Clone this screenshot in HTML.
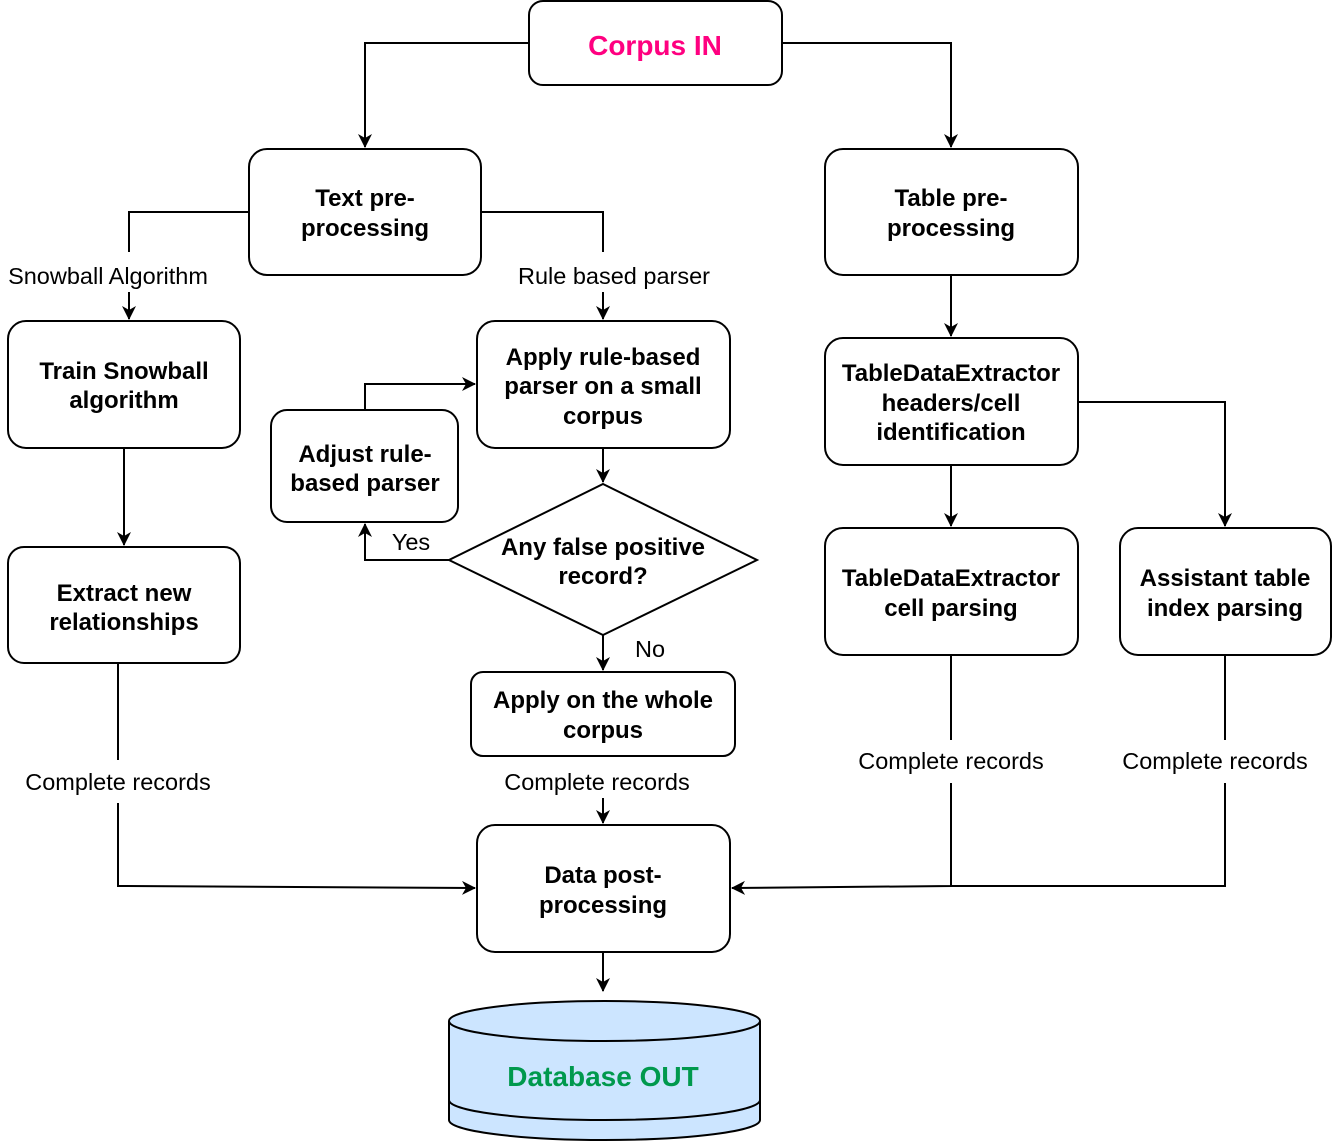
<!DOCTYPE html>
<html><head><meta charset="utf-8"><style>
html,body{margin:0;padding:0;background:#fff;}
svg{display:block;font-family:"Liberation Sans",Arial,sans-serif;}
.b{fill:#fff;stroke:#000;stroke-width:2;}
.t{font-weight:bold;font-size:24px;text-anchor:middle;fill:#000;}
.l{font-size:23.5px;text-anchor:middle;fill:#000;}
.c{fill:none;stroke:#000;stroke-width:2;}
</style></head><body>
<svg width="1332" height="1143" viewBox="0 0 1332 1143" xmlns="http://www.w3.org/2000/svg">
<defs><marker id="a" markerWidth="16" markerHeight="16" refX="13" refY="7" orient="auto" markerUnits="userSpaceOnUse"><path d="M0,0 L14,7 L0,14 L4,7 Z" fill="#000"/></marker></defs>

<path class="c" d="M529,43 H365 V147" marker-end="url(#a)"/>
<path class="c" d="M782,43 H951 V147" marker-end="url(#a)"/>
<path class="c" d="M249,212 H129 V252"/>
<path class="c" d="M129,292 V319" marker-end="url(#a)"/>
<path class="c" d="M481,212 H603 V252"/>
<path class="c" d="M603,292 V319" marker-end="url(#a)"/>
<path class="c" d="M124,448 V545" marker-end="url(#a)"/>
<path class="c" d="M118,663 V760"/>
<path class="c" d="M118,803 V886 L475,888" marker-end="url(#a)"/>
<path class="c" d="M603,448 V482" marker-end="url(#a)"/>
<path class="c" d="M449,560 H365 V524" marker-end="url(#a)"/>
<path class="c" d="M365,410 V384 H475" marker-end="url(#a)"/>
<path class="c" d="M603,635 V670" marker-end="url(#a)"/>
<path class="c" d="M603,798 V823" marker-end="url(#a)"/>
<path class="c" d="M951,275 V336" marker-end="url(#a)"/>
<path class="c" d="M951,465 V526" marker-end="url(#a)"/>
<path class="c" d="M1078,402 H1225 V526" marker-end="url(#a)"/>
<path class="c" d="M951,655 V740"/>
<path class="c" d="M951,783 V886 L732,888" marker-end="url(#a)"/>
<path class="c" d="M1225,655 V740"/>
<path class="c" d="M1225,783 V886 H951"/>
<path class="c" d="M603,952 V991" marker-end="url(#a)"/>

<rect class="b" x="529" y="1" width="253" height="84" rx="14"/>
<text x="655" y="55" font-size="28" font-weight="bold" text-anchor="middle" fill="#ff0080">Corpus IN</text>

<rect class="b" x="249" y="149" width="232" height="126" rx="18"/>
<text class="t" x="365" y="206">Text pre-</text><text class="t" x="365" y="236">processing</text>

<rect class="b" x="825" y="149" width="253" height="126" rx="18"/>
<text class="t" x="951" y="206">Table pre-</text><text class="t" x="951" y="236">processing</text>

<rect class="b" x="8" y="321" width="232" height="127" rx="18"/>
<text class="t" x="124" y="379">Train Snowball</text><text class="t" x="124" y="408">algorithm</text>

<rect class="b" x="477" y="321" width="253" height="127" rx="18"/>
<text class="t" x="603" y="365">Apply rule-based</text><text class="t" x="603" y="394">parser on a small</text><text class="t" x="603" y="424">corpus</text>

<rect class="b" x="271" y="410" width="187" height="112" rx="16"/>
<text class="t" x="365" y="462">Adjust rule-</text><text class="t" x="365" y="491">based parser</text>

<rect class="b" x="825" y="338" width="253" height="127" rx="18"/>
<text class="t" x="951" y="381">TableDataExtractor</text><text class="t" x="951" y="411">headers/cell</text><text class="t" x="951" y="440">identification</text>

<rect class="b" x="8" y="547" width="232" height="116" rx="16"/>
<text class="t" x="124" y="601">Extract new</text><text class="t" x="124" y="630">relationships</text>

<polygon class="b" points="603,484 757,560 603,635 449,560"/>
<text class="t" x="603" y="555">Any false positive</text><text class="t" x="603" y="584">record?</text>

<rect class="b" x="825" y="528" width="253" height="127" rx="18"/>
<text class="t" x="951" y="586">TableDataExtractor</text><text class="t" x="951" y="616">cell parsing</text>

<rect class="b" x="1120" y="528" width="211" height="127" rx="18"/>
<text class="t" x="1225" y="586">Assistant table</text><text class="t" x="1225" y="616">index parsing</text>

<rect class="b" x="471" y="672" width="264" height="84" rx="12"/>
<text class="t" x="603" y="708">Apply on the whole</text><text class="t" x="603" y="738">corpus</text>

<rect class="b" x="477" y="825" width="253" height="127" rx="18"/>
<text class="t" x="603" y="883">Data post-</text><text class="t" x="603" y="913">processing</text>

<path d="M449,1021 V1120 A155.5,20 0 0 0 760,1120 V1021" fill="#cce5ff" stroke="#000" stroke-width="2"/>
<ellipse cx="604.5" cy="1021" rx="155.5" ry="20" fill="#cce5ff" stroke="#000" stroke-width="2"/>
<path class="c" d="M449,1100 A155.5,20 0 0 0 760,1100"/>
<text x="603" y="1086" font-size="28" font-weight="bold" text-anchor="middle" fill="#00994d">Database OUT</text>

<rect x="0" y="262" width="218" height="28" fill="#fff"/>
<text class="l" x="108" y="284">Snowball Algorithm</text>
<text class="l" x="614" y="284">Rule based parser</text>
<text class="l" x="411" y="550">Yes</text>
<text class="l" x="650" y="657">No</text>
<text class="l" x="118" y="790">Complete records</text>
<text class="l" x="597" y="790">Complete records</text>
<text class="l" x="951" y="769">Complete records</text>
<text class="l" x="1215" y="769">Complete records</text>
</svg>
</body></html>
